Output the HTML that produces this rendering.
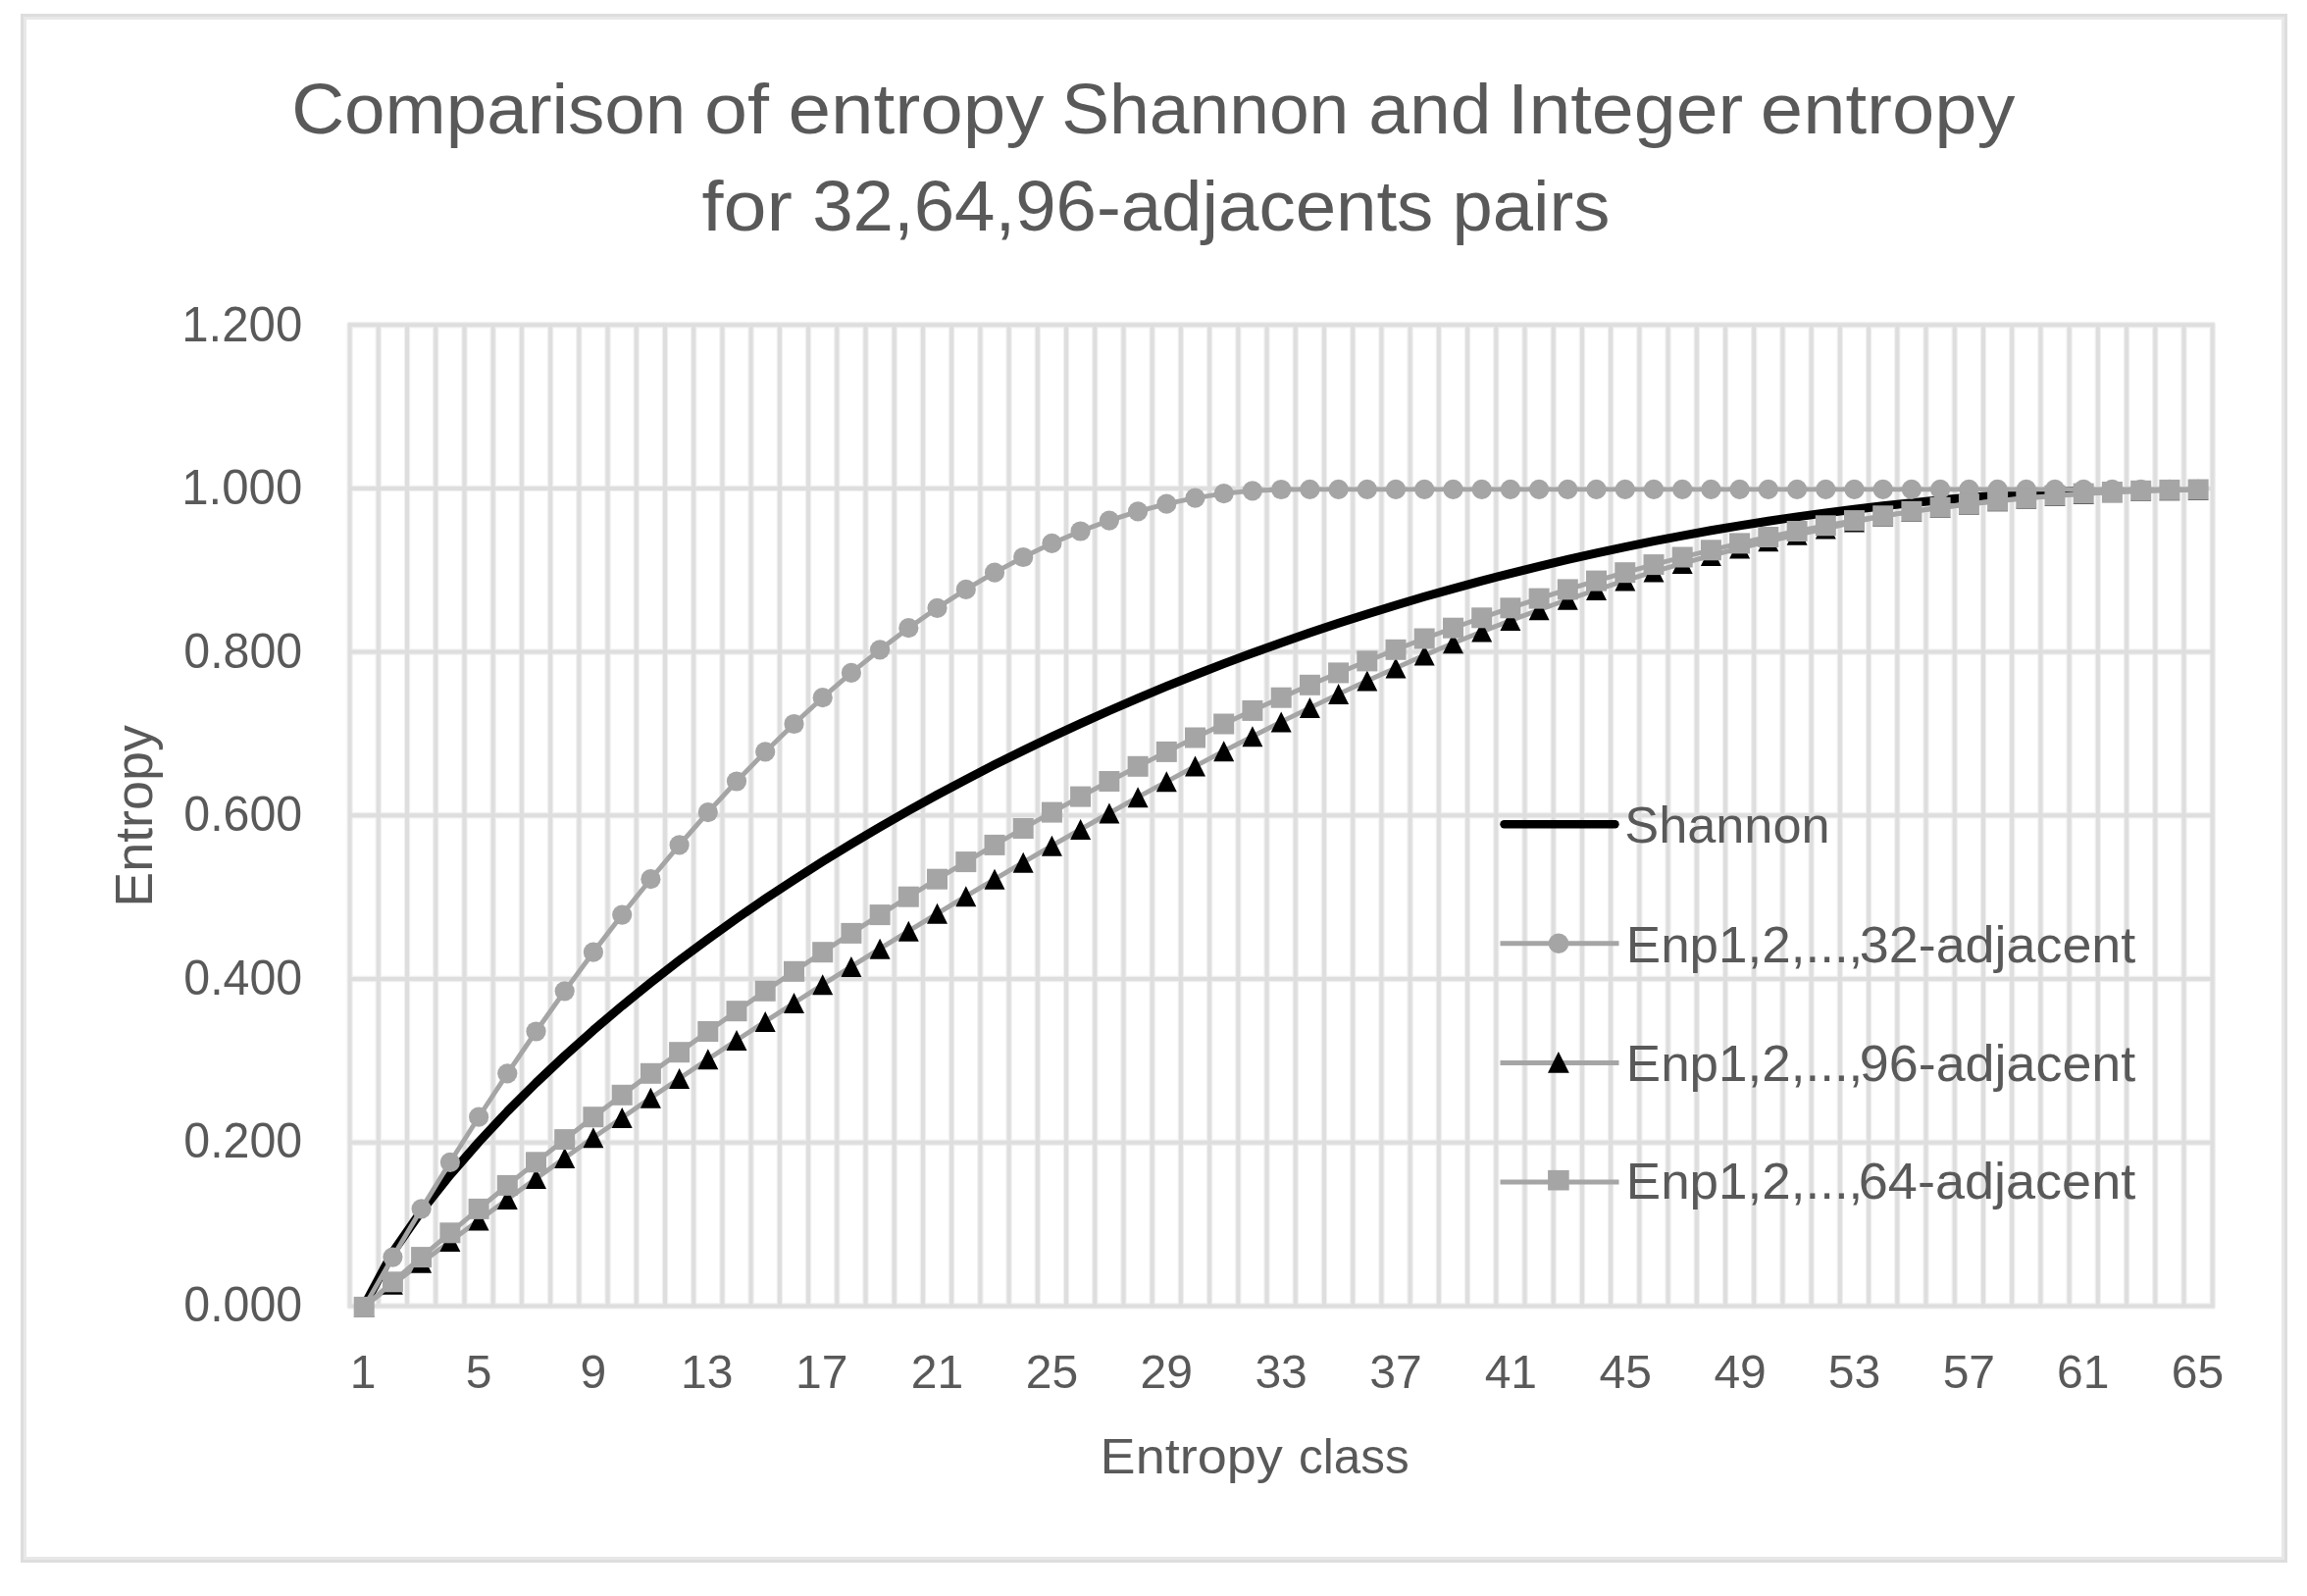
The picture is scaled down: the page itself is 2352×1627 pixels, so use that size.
<!DOCTYPE html>
<html lang="en"><head><meta charset="utf-8"><title>Comparison of entropy Shannon and Integer entropy</title>
<style>html,body{margin:0;padding:0;background:#fff}body{width:2352px;height:1627px;overflow:hidden}svg{display:block;filter:blur(0.55px)}text{font-family:"Liberation Sans",sans-serif;fill:#595959}</style></head><body>
<svg width="2352" height="1627" viewBox="0 0 2352 1627">
<rect width="2352" height="1627" fill="#fff"/>
<rect x="22.5" y="15.5" width="2308" height="1576" fill="none" stroke="#dddddd" stroke-width="3"/>
<rect x="25.5" y="18.5" width="2302" height="1570" fill="none" stroke="#e8e8e8" stroke-width="3"/>
<path d="M356.60 329.2V1333.4M385.82 329.2V1333.4M415.03 329.2V1333.4M444.25 329.2V1333.4M473.47 329.2V1333.4M502.69 329.2V1333.4M531.90 329.2V1333.4M561.12 329.2V1333.4M590.34 329.2V1333.4M619.55 329.2V1333.4M648.77 329.2V1333.4M677.99 329.2V1333.4M707.20 329.2V1333.4M736.42 329.2V1333.4M765.64 329.2V1333.4M794.86 329.2V1333.4M824.07 329.2V1333.4M853.29 329.2V1333.4M882.51 329.2V1333.4M911.72 329.2V1333.4M940.94 329.2V1333.4M970.16 329.2V1333.4M999.37 329.2V1333.4M1028.59 329.2V1333.4M1057.81 329.2V1333.4M1087.03 329.2V1333.4M1116.24 329.2V1333.4M1145.46 329.2V1333.4M1174.68 329.2V1333.4M1203.89 329.2V1333.4M1233.11 329.2V1333.4M1262.33 329.2V1333.4M1291.54 329.2V1333.4M1320.76 329.2V1333.4M1349.98 329.2V1333.4M1379.19 329.2V1333.4M1408.41 329.2V1333.4M1437.63 329.2V1333.4M1466.85 329.2V1333.4M1496.06 329.2V1333.4M1525.28 329.2V1333.4M1554.50 329.2V1333.4M1583.71 329.2V1333.4M1612.93 329.2V1333.4M1642.15 329.2V1333.4M1671.36 329.2V1333.4M1700.58 329.2V1333.4M1729.80 329.2V1333.4M1759.02 329.2V1333.4M1788.23 329.2V1333.4M1817.45 329.2V1333.4M1846.67 329.2V1333.4M1875.88 329.2V1333.4M1905.10 329.2V1333.4M1934.32 329.2V1333.4M1963.53 329.2V1333.4M1992.75 329.2V1333.4M2021.97 329.2V1333.4M2051.19 329.2V1333.4M2080.40 329.2V1333.4M2109.62 329.2V1333.4M2138.84 329.2V1333.4M2168.05 329.2V1333.4M2197.27 329.2V1333.4M2226.49 329.2V1333.4M2255.70 329.2V1333.4M354.6 331.20H2257.7M354.6 497.90H2257.7M354.6 664.60H2257.7M354.6 831.30H2257.7M354.6 998.00H2257.7M354.6 1164.70H2257.7M354.6 1331.40H2257.7" fill="none" stroke="#f0f0f0" stroke-width="6.4"/>
<path d="M356.60 329.2V1333.4M385.82 329.2V1333.4M415.03 329.2V1333.4M444.25 329.2V1333.4M473.47 329.2V1333.4M502.69 329.2V1333.4M531.90 329.2V1333.4M561.12 329.2V1333.4M590.34 329.2V1333.4M619.55 329.2V1333.4M648.77 329.2V1333.4M677.99 329.2V1333.4M707.20 329.2V1333.4M736.42 329.2V1333.4M765.64 329.2V1333.4M794.86 329.2V1333.4M824.07 329.2V1333.4M853.29 329.2V1333.4M882.51 329.2V1333.4M911.72 329.2V1333.4M940.94 329.2V1333.4M970.16 329.2V1333.4M999.37 329.2V1333.4M1028.59 329.2V1333.4M1057.81 329.2V1333.4M1087.03 329.2V1333.4M1116.24 329.2V1333.4M1145.46 329.2V1333.4M1174.68 329.2V1333.4M1203.89 329.2V1333.4M1233.11 329.2V1333.4M1262.33 329.2V1333.4M1291.54 329.2V1333.4M1320.76 329.2V1333.4M1349.98 329.2V1333.4M1379.19 329.2V1333.4M1408.41 329.2V1333.4M1437.63 329.2V1333.4M1466.85 329.2V1333.4M1496.06 329.2V1333.4M1525.28 329.2V1333.4M1554.50 329.2V1333.4M1583.71 329.2V1333.4M1612.93 329.2V1333.4M1642.15 329.2V1333.4M1671.36 329.2V1333.4M1700.58 329.2V1333.4M1729.80 329.2V1333.4M1759.02 329.2V1333.4M1788.23 329.2V1333.4M1817.45 329.2V1333.4M1846.67 329.2V1333.4M1875.88 329.2V1333.4M1905.10 329.2V1333.4M1934.32 329.2V1333.4M1963.53 329.2V1333.4M1992.75 329.2V1333.4M2021.97 329.2V1333.4M2051.19 329.2V1333.4M2080.40 329.2V1333.4M2109.62 329.2V1333.4M2138.84 329.2V1333.4M2168.05 329.2V1333.4M2197.27 329.2V1333.4M2226.49 329.2V1333.4M2255.70 329.2V1333.4M354.6 331.20H2257.7M354.6 497.90H2257.7M354.6 664.60H2257.7M354.6 831.30H2257.7M354.6 998.00H2257.7M354.6 1164.70H2257.7M354.6 1331.40H2257.7" fill="none" stroke="#dedede" stroke-width="4"/>
<polyline points="371.2,1331.4 400.4,1276.5 429.6,1234.6 458.9,1197.8 488.1,1164.2 517.3,1133.0 546.5,1103.9 575.7,1076.4 604.9,1050.3 634.2,1025.4 663.4,1001.7 692.6,979.0 721.8,957.3 751.0,936.4 780.2,916.3 809.5,897.0 838.7,878.3 867.9,860.4 897.1,843.1 926.3,826.4 955.5,810.2 984.8,794.7 1014.0,779.6 1043.2,765.1 1072.4,751.1 1101.6,737.6 1130.9,724.5 1160.1,711.9 1189.3,699.7 1218.5,688.0 1247.7,676.6 1276.9,665.7 1306.2,655.2 1335.4,645.1 1364.6,635.3 1393.8,626.0 1423.0,617.0 1452.2,608.3 1481.5,600.1 1510.7,592.1 1539.9,584.6 1569.1,577.3 1598.3,570.4 1627.5,563.8 1656.8,557.6 1686.0,551.7 1715.2,546.1 1744.4,540.8 1773.6,535.9 1802.8,531.2 1832.1,526.9 1861.3,522.9 1890.5,519.2 1919.7,515.7 1948.9,512.6 1978.1,509.8 2007.4,507.3 2036.6,505.1 2065.8,503.2 2095.0,501.6 2124.2,500.6" fill="none" stroke="#000" stroke-width="9" stroke-linejoin="round" stroke-linecap="round"/>
<polyline points="371.2,1332.4 400.4,1281.6 429.6,1232.4 458.9,1184.8 488.1,1138.7 517.3,1094.3 546.5,1051.5 575.7,1010.3 604.9,970.7 634.2,932.6 663.4,896.2 692.6,861.4 721.8,828.1 751.0,796.5 780.2,766.4 809.5,738.0 838.7,711.2 867.9,685.9 897.1,662.3 926.3,640.2 955.5,619.8 984.8,600.9 1014.0,583.7 1043.2,568.0 1072.4,553.9 1101.6,541.5 1130.9,530.6 1160.1,521.3 1189.3,513.7 1218.5,507.6 1247.7,503.1 1276.9,500.3 1306.2,499.0 1335.4,498.9 1364.6,498.9 1393.8,498.9 1423.0,498.9 1452.2,498.9 1481.5,498.9 1510.7,498.9 1539.9,498.9 1569.1,498.9 1598.3,498.9 1627.5,498.9 1656.8,498.9 1686.0,498.9 1715.2,498.9 1744.4,498.9 1773.6,498.9 1802.8,498.9 1832.1,498.9 1861.3,498.9 1890.5,498.9 1919.7,498.9 1948.9,498.9 1978.1,498.9 2007.4,498.9 2036.6,498.9 2065.8,498.9 2095.0,498.9 2124.2,498.9 2153.4,498.9 2182.7,498.9 2211.9,498.9 2241.1,498.9" fill="none" stroke="#a5a5a5" stroke-width="4.9" stroke-linejoin="round"/>
<g fill="#a5a5a5"><circle cx="371.2" cy="1332.4" r="10.1"/><circle cx="400.4" cy="1281.6" r="10.1"/><circle cx="429.6" cy="1232.4" r="10.1"/><circle cx="458.9" cy="1184.8" r="10.1"/><circle cx="488.1" cy="1138.7" r="10.1"/><circle cx="517.3" cy="1094.3" r="10.1"/><circle cx="546.5" cy="1051.5" r="10.1"/><circle cx="575.7" cy="1010.3" r="10.1"/><circle cx="604.9" cy="970.7" r="10.1"/><circle cx="634.2" cy="932.6" r="10.1"/><circle cx="663.4" cy="896.2" r="10.1"/><circle cx="692.6" cy="861.4" r="10.1"/><circle cx="721.8" cy="828.1" r="10.1"/><circle cx="751.0" cy="796.5" r="10.1"/><circle cx="780.2" cy="766.4" r="10.1"/><circle cx="809.5" cy="738.0" r="10.1"/><circle cx="838.7" cy="711.2" r="10.1"/><circle cx="867.9" cy="685.9" r="10.1"/><circle cx="897.1" cy="662.3" r="10.1"/><circle cx="926.3" cy="640.2" r="10.1"/><circle cx="955.5" cy="619.8" r="10.1"/><circle cx="984.8" cy="600.9" r="10.1"/><circle cx="1014.0" cy="583.7" r="10.1"/><circle cx="1043.2" cy="568.0" r="10.1"/><circle cx="1072.4" cy="553.9" r="10.1"/><circle cx="1101.6" cy="541.5" r="10.1"/><circle cx="1130.9" cy="530.6" r="10.1"/><circle cx="1160.1" cy="521.3" r="10.1"/><circle cx="1189.3" cy="513.7" r="10.1"/><circle cx="1218.5" cy="507.6" r="10.1"/><circle cx="1247.7" cy="503.1" r="10.1"/><circle cx="1276.9" cy="500.3" r="10.1"/><circle cx="1306.2" cy="499.0" r="10.1"/><circle cx="1335.4" cy="498.9" r="10.1"/><circle cx="1364.6" cy="498.9" r="10.1"/><circle cx="1393.8" cy="498.9" r="10.1"/><circle cx="1423.0" cy="498.9" r="10.1"/><circle cx="1452.2" cy="498.9" r="10.1"/><circle cx="1481.5" cy="498.9" r="10.1"/><circle cx="1510.7" cy="498.9" r="10.1"/><circle cx="1539.9" cy="498.9" r="10.1"/><circle cx="1569.1" cy="498.9" r="10.1"/><circle cx="1598.3" cy="498.9" r="10.1"/><circle cx="1627.5" cy="498.9" r="10.1"/><circle cx="1656.8" cy="498.9" r="10.1"/><circle cx="1686.0" cy="498.9" r="10.1"/><circle cx="1715.2" cy="498.9" r="10.1"/><circle cx="1744.4" cy="498.9" r="10.1"/><circle cx="1773.6" cy="498.9" r="10.1"/><circle cx="1802.8" cy="498.9" r="10.1"/><circle cx="1832.1" cy="498.9" r="10.1"/><circle cx="1861.3" cy="498.9" r="10.1"/><circle cx="1890.5" cy="498.9" r="10.1"/><circle cx="1919.7" cy="498.9" r="10.1"/><circle cx="1948.9" cy="498.9" r="10.1"/><circle cx="1978.1" cy="498.9" r="10.1"/><circle cx="2007.4" cy="498.9" r="10.1"/><circle cx="2036.6" cy="498.9" r="10.1"/><circle cx="2065.8" cy="498.9" r="10.1"/><circle cx="2095.0" cy="498.9" r="10.1"/><circle cx="2124.2" cy="498.9" r="10.1"/><circle cx="2153.4" cy="498.9" r="10.1"/><circle cx="2182.7" cy="498.9" r="10.1"/><circle cx="2211.9" cy="498.9" r="10.1"/><circle cx="2241.1" cy="498.9" r="10.1"/></g>
<polyline points="371.2,1332.0 400.4,1309.2 429.6,1287.3 458.9,1265.6 488.1,1244.0 517.3,1222.6 546.5,1201.4 575.7,1180.5 604.9,1159.8 634.2,1139.4 663.4,1119.3 692.6,1099.4 721.8,1079.8 751.0,1060.5 780.2,1041.4 809.5,1022.5 838.7,1003.8 867.9,985.4 897.1,967.2 926.3,949.2 955.5,931.3 984.8,913.7 1014.0,896.3 1043.2,879.2 1072.4,862.2 1101.6,845.5 1130.9,829.0 1160.1,812.7 1189.3,796.8 1218.5,781.1 1247.7,765.7 1276.9,750.7 1306.2,735.9 1335.4,721.6 1364.6,707.6 1393.8,694.0 1423.0,680.9 1452.2,668.1 1481.5,655.8 1510.7,644.0 1539.9,632.6 1569.1,621.7 1598.3,611.3 1627.5,601.4 1656.8,591.9 1686.0,582.9 1715.2,574.4 1744.4,566.4 1773.6,558.9 1802.8,551.8 1832.1,545.2 1861.3,539.0 1890.5,532.1 1919.7,526.1 1948.9,521.6 1978.1,517.6 2007.4,514.0 2036.6,510.7 2065.8,507.9 2095.0,505.5 2124.2,503.4 2153.4,501.8 2182.7,500.6 2211.9,499.7 2241.1,499.3" fill="none" stroke="#a5a5a5" stroke-width="4.9" stroke-linejoin="round"/>
<path fill="#000" d="M371.2 1321.5L381.7 1342.5L360.7 1342.5ZM400.4 1298.7L410.9 1319.7L389.9 1319.7ZM429.6 1276.8L440.1 1297.8L419.1 1297.8ZM458.9 1255.1L469.4 1276.1L448.4 1276.1ZM488.1 1233.5L498.6 1254.5L477.6 1254.5ZM517.3 1212.1L527.8 1233.1L506.8 1233.1ZM546.5 1190.9L557.0 1211.9L536.0 1211.9ZM575.7 1170.0L586.2 1191.0L565.2 1191.0ZM604.9 1149.3L615.4 1170.3L594.4 1170.3ZM634.2 1128.9L644.7 1149.9L623.7 1149.9ZM663.4 1108.8L673.9 1129.8L652.9 1129.8ZM692.6 1088.9L703.1 1109.9L682.1 1109.9ZM721.8 1069.3L732.3 1090.3L711.3 1090.3ZM751.0 1050.0L761.5 1071.0L740.5 1071.0ZM780.2 1030.9L790.7 1051.9L769.7 1051.9ZM809.5 1012.0L820.0 1033.0L799.0 1033.0ZM838.7 993.3L849.2 1014.3L828.2 1014.3ZM867.9 974.9L878.4 995.9L857.4 995.9ZM897.1 956.7L907.6 977.7L886.6 977.7ZM926.3 938.7L936.8 959.7L915.8 959.7ZM955.5 920.8L966.0 941.8L945.0 941.8ZM984.8 903.2L995.3 924.2L974.3 924.2ZM1014.0 885.8L1024.5 906.8L1003.5 906.8ZM1043.2 868.7L1053.7 889.7L1032.7 889.7ZM1072.4 851.7L1082.9 872.7L1061.9 872.7ZM1101.6 835.0L1112.1 856.0L1091.1 856.0ZM1130.9 818.5L1141.4 839.5L1120.4 839.5ZM1160.1 802.2L1170.6 823.2L1149.6 823.2ZM1189.3 786.3L1199.8 807.3L1178.8 807.3ZM1218.5 770.6L1229.0 791.6L1208.0 791.6ZM1247.7 755.2L1258.2 776.2L1237.2 776.2ZM1276.9 740.2L1287.4 761.2L1266.4 761.2ZM1306.2 725.4L1316.7 746.4L1295.7 746.4ZM1335.4 711.1L1345.9 732.1L1324.9 732.1ZM1364.6 697.1L1375.1 718.1L1354.1 718.1ZM1393.8 683.5L1404.3 704.5L1383.3 704.5ZM1423.0 670.4L1433.5 691.4L1412.5 691.4ZM1452.2 657.6L1462.7 678.6L1441.7 678.6ZM1481.5 645.3L1492.0 666.3L1471.0 666.3ZM1510.7 633.5L1521.2 654.5L1500.2 654.5ZM1539.9 622.1L1550.4 643.1L1529.4 643.1ZM1569.1 611.2L1579.6 632.2L1558.6 632.2ZM1598.3 600.8L1608.8 621.8L1587.8 621.8ZM1627.5 590.9L1638.0 611.9L1617.0 611.9ZM1656.8 581.4L1667.3 602.4L1646.3 602.4ZM1686.0 572.4L1696.5 593.4L1675.5 593.4ZM1715.2 563.9L1725.7 584.9L1704.7 584.9ZM1744.4 555.9L1754.9 576.9L1733.9 576.9ZM1773.6 548.4L1784.1 569.4L1763.1 569.4ZM1802.8 541.3L1813.3 562.3L1792.3 562.3ZM1832.1 534.7L1842.6 555.7L1821.6 555.7ZM1861.3 528.5L1871.8 549.5L1850.8 549.5ZM1890.5 521.6L1901.0 542.6L1880.0 542.6ZM1919.7 515.6L1930.2 536.6L1909.2 536.6ZM1948.9 511.1L1959.4 532.1L1938.4 532.1ZM1978.1 507.1L1988.6 528.1L1967.6 528.1ZM2007.4 503.5L2017.9 524.5L1996.9 524.5ZM2036.6 500.2L2047.1 521.2L2026.1 521.2ZM2065.8 497.4L2076.3 518.4L2055.3 518.4ZM2095.0 495.0L2105.5 516.0L2084.5 516.0ZM2124.2 492.9L2134.7 513.9L2113.7 513.9ZM2153.4 491.3L2163.9 512.3L2142.9 512.3ZM2182.7 490.1L2193.2 511.1L2172.2 511.1ZM2211.9 489.2L2222.4 510.2L2201.4 510.2ZM2241.1 488.8L2251.6 509.8L2230.6 509.8Z"/>
<polyline points="371.2,1332.4 400.4,1306.8 429.6,1281.6 458.9,1256.8 488.1,1232.4 517.3,1208.4 546.5,1184.8 575.7,1161.6 604.9,1138.7 634.2,1116.3 663.4,1094.3 692.6,1072.7 721.8,1051.5 751.0,1030.7 780.2,1010.3 809.5,990.3 838.7,970.7 867.9,951.4 897.1,932.6 926.3,914.2 955.5,896.2 984.8,878.6 1014.0,861.4 1043.2,844.5 1072.4,828.1 1101.6,812.1 1130.9,796.5 1160.1,781.3 1189.3,766.4 1218.5,752.0 1247.7,738.0 1276.9,724.4 1306.2,711.2 1335.4,698.3 1364.6,685.9 1393.8,673.9 1423.0,662.3 1452.2,651.0 1481.5,640.2 1510.7,629.8 1539.9,619.8 1569.1,610.1 1598.3,600.9 1627.5,592.1 1656.8,583.7 1686.0,575.6 1715.2,568.0 1744.4,560.8 1773.6,553.9 1802.8,547.5 1832.1,541.5 1861.3,535.8 1890.5,530.6 1919.7,525.8 1948.9,521.3 1978.1,517.3 2007.4,513.7 2036.6,510.4 2065.8,507.6 2095.0,505.2 2124.2,503.1 2153.4,501.5 2182.7,500.3 2211.9,499.4 2241.1,499.0" fill="none" stroke="#a5a5a5" stroke-width="4.9" stroke-linejoin="round"/>
<g fill="#a5a5a5"><rect x="360.7" y="1321.9" width="21" height="21"/><rect x="389.9" y="1296.3" width="21" height="21"/><rect x="419.1" y="1271.1" width="21" height="21"/><rect x="448.4" y="1246.3" width="21" height="21"/><rect x="477.6" y="1221.9" width="21" height="21"/><rect x="506.8" y="1197.9" width="21" height="21"/><rect x="536.0" y="1174.3" width="21" height="21"/><rect x="565.2" y="1151.1" width="21" height="21"/><rect x="594.4" y="1128.2" width="21" height="21"/><rect x="623.7" y="1105.8" width="21" height="21"/><rect x="652.9" y="1083.8" width="21" height="21"/><rect x="682.1" y="1062.2" width="21" height="21"/><rect x="711.3" y="1041.0" width="21" height="21"/><rect x="740.5" y="1020.2" width="21" height="21"/><rect x="769.7" y="999.8" width="21" height="21"/><rect x="799.0" y="979.8" width="21" height="21"/><rect x="828.2" y="960.2" width="21" height="21"/><rect x="857.4" y="940.9" width="21" height="21"/><rect x="886.6" y="922.1" width="21" height="21"/><rect x="915.8" y="903.7" width="21" height="21"/><rect x="945.0" y="885.7" width="21" height="21"/><rect x="974.3" y="868.1" width="21" height="21"/><rect x="1003.5" y="850.9" width="21" height="21"/><rect x="1032.7" y="834.0" width="21" height="21"/><rect x="1061.9" y="817.6" width="21" height="21"/><rect x="1091.1" y="801.6" width="21" height="21"/><rect x="1120.4" y="786.0" width="21" height="21"/><rect x="1149.6" y="770.8" width="21" height="21"/><rect x="1178.8" y="755.9" width="21" height="21"/><rect x="1208.0" y="741.5" width="21" height="21"/><rect x="1237.2" y="727.5" width="21" height="21"/><rect x="1266.4" y="713.9" width="21" height="21"/><rect x="1295.7" y="700.7" width="21" height="21"/><rect x="1324.9" y="687.8" width="21" height="21"/><rect x="1354.1" y="675.4" width="21" height="21"/><rect x="1383.3" y="663.4" width="21" height="21"/><rect x="1412.5" y="651.8" width="21" height="21"/><rect x="1441.7" y="640.5" width="21" height="21"/><rect x="1471.0" y="629.7" width="21" height="21"/><rect x="1500.2" y="619.3" width="21" height="21"/><rect x="1529.4" y="609.3" width="21" height="21"/><rect x="1558.6" y="599.6" width="21" height="21"/><rect x="1587.8" y="590.4" width="21" height="21"/><rect x="1617.0" y="581.6" width="21" height="21"/><rect x="1646.3" y="573.2" width="21" height="21"/><rect x="1675.5" y="565.1" width="21" height="21"/><rect x="1704.7" y="557.5" width="21" height="21"/><rect x="1733.9" y="550.3" width="21" height="21"/><rect x="1763.1" y="543.4" width="21" height="21"/><rect x="1792.3" y="537.0" width="21" height="21"/><rect x="1821.6" y="531.0" width="21" height="21"/><rect x="1850.8" y="525.3" width="21" height="21"/><rect x="1880.0" y="520.1" width="21" height="21"/><rect x="1909.2" y="515.3" width="21" height="21"/><rect x="1938.4" y="510.8" width="21" height="21"/><rect x="1967.6" y="506.8" width="21" height="21"/><rect x="1996.9" y="503.2" width="21" height="21"/><rect x="2026.1" y="499.9" width="21" height="21"/><rect x="2055.3" y="497.1" width="21" height="21"/><rect x="2084.5" y="494.7" width="21" height="21"/><rect x="2113.7" y="492.6" width="21" height="21"/><rect x="2142.9" y="491.0" width="21" height="21"/><rect x="2172.2" y="489.8" width="21" height="21"/><rect x="2201.4" y="488.9" width="21" height="21"/><rect x="2230.6" y="488.5" width="21" height="21"/></g>
<line x1="1533.5" y1="840.2" x2="1646.5" y2="840.2" stroke="#000" stroke-width="8.4" stroke-linecap="round"/>
<line x1="1529.5" y1="961.8" x2="1650.5" y2="961.8" stroke="#a5a5a5" stroke-width="4.9"/>
<line x1="1529.5" y1="1083.5" x2="1650.5" y2="1083.5" stroke="#a5a5a5" stroke-width="4.9"/>
<line x1="1529.5" y1="1205.0" x2="1650.5" y2="1205.0" stroke="#a5a5a5" stroke-width="4.9"/>
<circle cx="1589" cy="961.7" r="10.3" fill="#a5a5a5"/>
<path fill="#000" d="M1588.9 1071.9L1599.8 1093.7L1578.0 1093.7Z"/>
<rect x="1578.1" y="1192.9" width="21.6" height="20.6" fill="#a5a5a5"/>
<text font-size="72.00"><tspan x="297.16" y="135.80" textLength="402.20" lengthAdjust="spacingAndGlyphs">Comparison</tspan> <tspan x="718.05" y="135.80" textLength="66.05" lengthAdjust="spacingAndGlyphs">of</tspan> <tspan x="803.44" y="135.80" textLength="260.93" lengthAdjust="spacingAndGlyphs">entropy</tspan> <tspan x="1082.23" y="135.80" textLength="293.12" lengthAdjust="spacingAndGlyphs">Shannon</tspan> <tspan x="1395.27" y="135.80" textLength="125.18" lengthAdjust="spacingAndGlyphs">and</tspan> <tspan x="1537.00" y="135.80" textLength="240.24" lengthAdjust="spacingAndGlyphs">Integer</tspan> <tspan x="1794.86" y="135.80" textLength="259.61" lengthAdjust="spacingAndGlyphs">entropy</tspan></text>
<text font-size="72.00"><tspan x="715.55" y="235.40" textLength="92.43" lengthAdjust="spacingAndGlyphs">for</tspan> <tspan x="828.20" y="235.40" textLength="633.15" lengthAdjust="spacingAndGlyphs">32,64,96-adjacents</tspan> <tspan x="1480.44" y="235.40" textLength="160.91" lengthAdjust="spacingAndGlyphs">pairs</tspan></text>
<text font-size="50.00"><tspan x="1121.58" y="1502.20" textLength="186.28" lengthAdjust="spacingAndGlyphs">Entropy</tspan> <tspan x="1324.12" y="1502.20" textLength="112.58" lengthAdjust="spacingAndGlyphs">class</tspan></text>
<text transform="translate(154.50 920.70) rotate(-90)" font-size="54.00"><tspan x="-3.99" y="0" textLength="185.50" lengthAdjust="spacingAndGlyphs">Entropy</tspan></text>
<text font-size="52.00"><tspan x="1656.28" y="858.80" textLength="209.34" lengthAdjust="spacingAndGlyphs">Shannon</tspan></text>
<text font-size="52.00"><tspan x="1657.82" y="980.50" textLength="241.52" lengthAdjust="spacingAndGlyphs">Enp1,2,...,</tspan><tspan x="1895.83" y="980.50" textLength="281.46" lengthAdjust="spacingAndGlyphs">32-adjacent</tspan></text>
<text font-size="52.00"><tspan x="1657.82" y="1101.80" textLength="241.52" lengthAdjust="spacingAndGlyphs">Enp1,2,...,</tspan><tspan x="1895.83" y="1101.80" textLength="281.46" lengthAdjust="spacingAndGlyphs">96-adjacent</tspan></text>
<text font-size="52.00"><tspan x="1657.82" y="1222.40" textLength="241.52" lengthAdjust="spacingAndGlyphs">Enp1,2,...,</tspan><tspan x="1894.78" y="1222.40" textLength="282.51" lengthAdjust="spacingAndGlyphs">64-adjacent</tspan></text>
<text font-size="49.50"><tspan x="185.23" y="347.50" textLength="123.04" lengthAdjust="spacingAndGlyphs">1.200</tspan></text>
<text font-size="49.50"><tspan x="185.23" y="514.00" textLength="123.04" lengthAdjust="spacingAndGlyphs">1.000</tspan></text>
<text font-size="49.50"><tspan x="187.25" y="680.50" textLength="120.98" lengthAdjust="spacingAndGlyphs">0.800</tspan></text>
<text font-size="49.50"><tspan x="187.25" y="847.00" textLength="120.98" lengthAdjust="spacingAndGlyphs">0.600</tspan></text>
<text font-size="49.50"><tspan x="187.25" y="1013.50" textLength="120.98" lengthAdjust="spacingAndGlyphs">0.400</tspan></text>
<text font-size="49.50"><tspan x="187.25" y="1180.00" textLength="120.98" lengthAdjust="spacingAndGlyphs">0.200</tspan></text>
<text font-size="49.50"><tspan x="187.25" y="1346.50" textLength="120.98" lengthAdjust="spacingAndGlyphs">0.000</tspan></text>
<text font-size="48.50"><tspan x="356.85" y="1414.50" textLength="26.71" lengthAdjust="spacingAndGlyphs">1</tspan></text>
<text font-size="48.50"><tspan x="474.71" y="1414.50" textLength="26.71" lengthAdjust="spacingAndGlyphs">5</tspan></text>
<text font-size="48.50"><tspan x="591.58" y="1414.50" textLength="26.71" lengthAdjust="spacingAndGlyphs">9</tspan></text>
<text font-size="48.50"><tspan x="694.09" y="1414.50" textLength="53.41" lengthAdjust="spacingAndGlyphs">13</tspan></text>
<text font-size="48.50"><tspan x="810.96" y="1414.50" textLength="53.41" lengthAdjust="spacingAndGlyphs">17</tspan></text>
<text font-size="48.50"><tspan x="928.82" y="1414.50" textLength="53.41" lengthAdjust="spacingAndGlyphs">21</tspan></text>
<text font-size="48.50"><tspan x="1045.69" y="1414.50" textLength="53.41" lengthAdjust="spacingAndGlyphs">25</tspan></text>
<text font-size="48.50"><tspan x="1162.55" y="1414.50" textLength="53.41" lengthAdjust="spacingAndGlyphs">29</tspan></text>
<text font-size="48.50"><tspan x="1279.42" y="1414.50" textLength="53.41" lengthAdjust="spacingAndGlyphs">33</tspan></text>
<text font-size="48.50"><tspan x="1396.29" y="1414.50" textLength="53.41" lengthAdjust="spacingAndGlyphs">37</tspan></text>
<text font-size="48.50"><tspan x="1513.65" y="1414.50" textLength="53.41" lengthAdjust="spacingAndGlyphs">41</tspan></text>
<text font-size="48.50"><tspan x="1630.52" y="1414.50" textLength="53.41" lengthAdjust="spacingAndGlyphs">45</tspan></text>
<text font-size="48.50"><tspan x="1747.39" y="1414.50" textLength="53.41" lengthAdjust="spacingAndGlyphs">49</tspan></text>
<text font-size="48.50"><tspan x="1863.76" y="1414.50" textLength="53.41" lengthAdjust="spacingAndGlyphs">53</tspan></text>
<text font-size="48.50"><tspan x="1980.63" y="1414.50" textLength="53.41" lengthAdjust="spacingAndGlyphs">57</tspan></text>
<text font-size="48.50"><tspan x="2097.00" y="1414.50" textLength="53.41" lengthAdjust="spacingAndGlyphs">61</tspan></text>
<text font-size="48.50"><tspan x="2213.87" y="1414.50" textLength="53.41" lengthAdjust="spacingAndGlyphs">65</tspan></text>
</svg></body></html>
